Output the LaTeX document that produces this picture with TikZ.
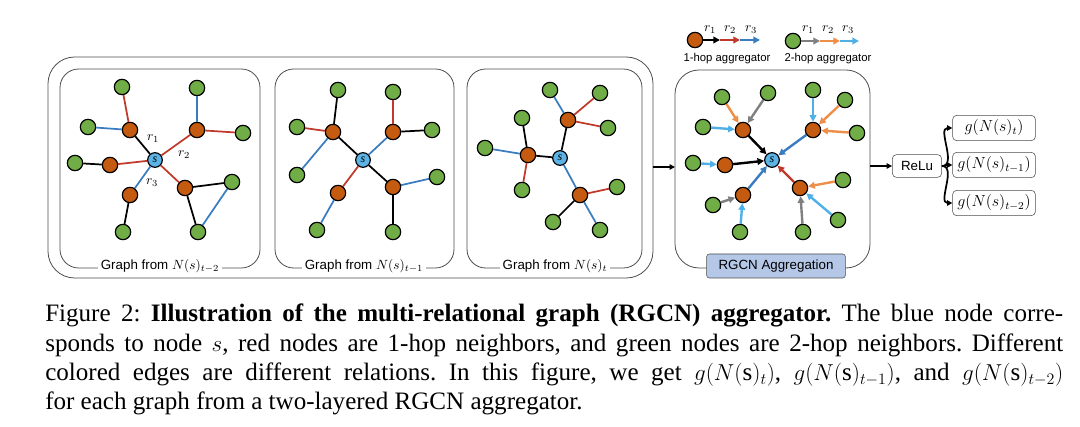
\documentclass[tikz,border=0pt]{standalone}
\usepackage{fontspec}
\setmainfont{Liberation Serif}
\setsansfont{Liberation Sans}
\usetikzlibrary{arrows.meta}
\definecolor{nor}{HTML}{C55A11}
\definecolor{ngr}{HTML}{70AD47}
\definecolor{nbl}{HTML}{5BB4E5}
\definecolor{ered}{HTML}{C0392B}
\definecolor{eblu}{HTML}{3A7CC0}
\definecolor{alb}{HTML}{4FB0E8}
\definecolor{aor}{HTML}{ED8F4A}
\definecolor{agr}{HTML}{808080}
\definecolor{rgcn}{HTML}{B4C7E7}
\begin{document}
\frenchspacing
\begin{tikzpicture}[x=0.75pt,y=-0.75pt,
  o/.style={circle,draw=black,line width=0.9pt,fill=nor,minimum size=11.5pt,inner sep=0pt},
  g/.style={circle,draw=black,line width=0.9pt,fill=ngr,minimum size=11.5pt,inner sep=0pt},
  s/.style={circle,draw=black,line width=0.9pt,fill=nbl,minimum size=11pt,inner sep=0pt,font=\small\itshape},
  e/.style={line width=1.3pt},
  k/.style={e,black}, r/.style={e,ered}, b/.style={e,eblu},
  ar/.style={line width=1.8pt,-{Triangle[length=5pt,width=5pt]}},
  box/.style={draw=black!70,line width=0.6pt,rounded corners=14pt},
  lab/.style={fill=white,font=\sffamily\fontsize{10}{12}\selectfont,inner sep=2pt},
  sm/.style={font=\sffamily\fontsize{8.5}{10}\selectfont}]
\useasboundingbox (0,0) rectangle (1080,427);
% boxes
\draw[box,rounded corners=20pt] (48,57) rectangle (653,278);
\draw[box] (60,69) rectangle (260,268);
\draw[box] (275,69) rectangle (454,268);
\draw[box] (467,69) rectangle (642,268);
\draw[box,rounded corners=18pt] (675,70) rectangle (870,268);
\node[lab] (l1) at (160,266) {Graph from $N(s)_{t-2}$};
\node[lab] (l2) at (364,266) {Graph from $N(s)_{t-1}$};
\node[lab] (l3) at (555,266) {Graph from $N(s)_{t}$};
\node[draw=black!70,fill=rgcn,rounded corners=2pt,minimum width=104pt,minimum height=18pt,font=\sffamily\fontsize{10}{12}\selectfont] (rg) at (776,266) {RGCN Aggregation};
% graph 1
\node[s] (s1) at (155,160) {s};
\node[o] (a1) at (130,130) {}; \node[o] (a2) at (197,130) {}; \node[o] (a3) at (110,165) {};
\node[o] (a4) at (130,195) {}; \node[o] (a5) at (185,188) {};
\node[g] (g1) at (122,87) {}; \node[g] (g2) at (88,127) {}; \node[g] (g3) at (197,88) {};
\node[g] (g4) at (243,133) {}; \node[g] (g5) at (75,163) {}; \node[g] (g6) at (123,232) {};
\node[g] (g7) at (232,182) {}; \node[g] (g8) at (198,232) {};
\draw[k] (s1)--(a1); \draw[r] (s1)--(a2); \draw[r] (s1)--(a3); \draw[b] (s1)--(a4); \draw[r] (s1)--(a5);
\draw[r] (a1)--(g1); \draw[b] (a1)--(g2); \draw[b] (a2)--(g3); \draw[r] (a2)--(g4);
\draw[k] (a3)--(g5); \draw[k] (a4)--(g6); \draw[k] (a5)--(g7); \draw[k] (a5)--(g8); \draw[b] (g7)--(g8);
\node (r1) at (153,139) {$r_1$};
\node (r2) at (184,155) {$r_2$};
\node (r3) at (152,183) {$r_3$};
% graph 2
\node[s] (s2) at (363,160) {s};
\node[o] (b1) at (333,132) {}; \node[o] (b2) at (393,132) {}; \node[o] (b3) at (338,193) {}; \node[o] (b4) at (393,187) {};
\node[g] (h1) at (338,90) {}; \node[g] (h2) at (297,127) {}; \node[g] (h3) at (297,175) {};
\node[g] (h4) at (393,92) {}; \node[g] (h5) at (432,130) {}; \node[g] (h6) at (437,177) {};
\node[g] (h7) at (393,232) {}; \node[g] (h8) at (317,230) {};
\draw[k] (s2)--(b1); \draw[b] (s2)--(b2); \draw[r] (s2)--(b3); \draw[k] (s2)--(b4);
\draw[k] (b1)--(h1); \draw[r] (b1)--(h2); \draw[b] (b1)--(h3); \draw[r] (b2)--(h4); \draw[k] (b2)--(h5);
\draw[b] (b4)--(h6); \draw[k] (b4)--(h7); \draw[b] (b3)--(h8);
% graph 3
\node[s] (s3) at (560,158) {s};
\node[o] (c1) at (528,155) {}; \node[o] (c2) at (568,120) {}; \node[o] (c3) at (580,195) {};
\node[g] (i1) at (522,118) {}; \node[g] (i2) at (485,148) {}; \node[g] (i3) at (522,190) {};
\node[g] (i4) at (550,90) {}; \node[g] (i5) at (600,93) {}; \node[g] (i6) at (608,128) {};
\node[g] (i7) at (617,187) {}; \node[g] (i8) at (553,222) {}; \node[g] (i9) at (600,230) {};
\draw[k] (s3)--(c1); \draw[k] (s3)--(c2); \draw[b] (s3)--(c3);
\draw[k] (c1)--(i1); \draw[b] (c1)--(i2); \draw[r] (c1)--(i3); \draw[b] (c2)--(i4); \draw[r] (c2)--(i5);
\draw[r] (c2)--(i6); \draw[r] (c3)--(i7); \draw[k] (c3)--(i8); \draw[b] (c3)--(i9);
% aggregation graph
\node[s] (s4) at (772,160) {s};
\node[o] (d1) at (743,130) {}; \node[o] (d2) at (813,130) {}; \node[o] (d3) at (725,165) {};
\node[o] (d4) at (743,195) {}; \node[o] (d5) at (800,188) {};
\node[g] (j1) at (722,97) {}; \node[g] (j2) at (768,93) {}; \node[g] (j3) at (703,127) {};
\node[g] (j4) at (813,90) {}; \node[g] (j5) at (845,100) {}; \node[g] (j6) at (857,133) {};
\node[g] (j7) at (693,163) {}; \node[g] (j8) at (713,205) {}; \node[g] (j9) at (740,232) {};
\node[g] (j10) at (843,180) {}; \node[g] (j11) at (803,232) {}; \node[g] (j12) at (838,220) {};
\draw[ar,black] (d1)--(s4); \draw[ar,eblu] (d2)--(s4); \draw[ar,black] (d3)--(s4);
\draw[ar,eblu] (d4)--(s4); \draw[ar,ered] (d5)--(s4);
\draw[ar,aor] (j1)--(d1); \draw[ar,agr] (j2)--(d1); \draw[ar,alb] (j3)--(d1);
\draw[ar,alb] (j4)--(d2); \draw[ar,aor] (j5)--(d2); \draw[ar,aor] (j6)--(d2);
\draw[ar,alb] (j7)--(d3); \draw[ar,agr] (j8)--(d4); \draw[ar,alb] (j9)--(d4);
\draw[ar,aor] (j10)--(d5); \draw[ar,agr] (j11)--(d5); \draw[ar,alb] (j12)--(d5);
% legend
\node[o] (lo) at (695,40) {};
\coordinate (la1) at (720,40); \coordinate (la2) at (740,40); \coordinate (la3) at (760,40);
\draw[ar,black] (lo)--(la1); \draw[ar,ered] (la1)--(la2); \draw[ar,eblu] (la2)--(la3);
\node at (710,30) {$r_1$}; \node at (730,30) {$r_2$}; \node at (751,30) {$r_3$};
\node[sm] (t1) at (727,59) {1-hop aggregator};
\node[g] (lg) at (793,41) {};
\coordinate (lb1) at (820,41); \coordinate (lb2) at (840,41); \coordinate (lb3) at (859,41);
\draw[ar,agr] (lg)--(lb1); \draw[ar,aor] (lb1)--(lb2); \draw[ar,alb] (lb2)--(lb3);
\node at (808,30) {$r_1$}; \node at (828,30) {$r_2$}; \node at (848,30) {$r_3$};
\node[sm] (t2) at (828,59) {2-hop aggregator};
% flow
\coordinate (ob) at (653,167); \coordinate (ab) at (675,167);
\draw[line width=1.2pt,-{Triangle[length=4pt,width=4pt]}] (ob)--(ab);
\node[draw=black!70,rounded corners=3pt,minimum width=37pt,minimum height=17pt,font=\sffamily\fontsize{10}{12}\selectfont] (relu) at (917,166) {ReLu};
\coordinate (ae) at (870,166);
\draw[line width=1.2pt,-{Triangle[length=4pt,width=4pt]}] (ae)--(relu);
\foreach \n/\y/\t in {o1/128/{g(N(s)_t)},o2/165/{g(N(s)_{t-1})},o3/203/{g(N(s)_{t-2})}}{
  \node[draw=black!70,rounded corners=3pt,minimum width=62pt,minimum height=19pt,inner sep=2pt,font=\large] (\n) at (994,\y) {$\t$};
  \draw[line width=1.3pt,-{Triangle[length=4pt,width=4pt]}] (relu.east) to[out=0,in=180] (\n.west);
}
% caption
\node[anchor=north west,inner sep=0pt,text width=1018*0.75pt,align=justify,font=\fontsize{18.8}{22}\selectfont] (cap) at (45,304) {Figure 2: \textbf{Illustration of the multi-relational graph (RGCN) aggregator.} The blue node corre-\linebreak sponds to node $s$, red nodes are 1-hop neighbors, and green nodes are 2-hop neighbors. Different\linebreak colored edges are different relations. In this figure, we get $g(N(\mathrm{s})_t)$, $g(N(\mathrm{s})_{t-1})$, and $g(N(\mathrm{s})_{t-2})$\linebreak for each graph from a two-layered RGCN aggregator.};
\end{tikzpicture}
\end{document}
